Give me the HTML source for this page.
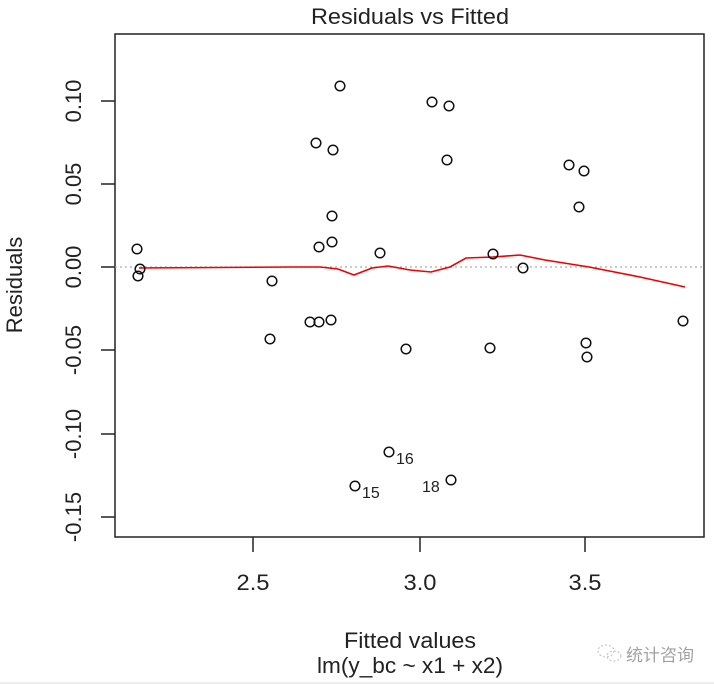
<!DOCTYPE html>
<html><head><meta charset="utf-8"><style>
body{margin:0;background:#fff}
svg{display:block}
text{font-family:"Liberation Sans","Noto Sans CJK SC",sans-serif;fill:#222}
</style></head><body>
<svg width="714" height="684" viewBox="0 0 714 684" xmlns="http://www.w3.org/2000/svg">
<rect x="0" y="0" width="714" height="684" fill="#fff"/>
<rect x="0" y="682" width="714" height="2" fill="#eee"/>
<text x="410" y="24" font-size="22" text-anchor="middle" textLength="198" lengthAdjust="spacingAndGlyphs">Residuals vs Fitted</text>
<rect x="115" y="34" width="589" height="503" fill="none" stroke="#222" stroke-width="1.5"/>
<line x1="115" y1="267" x2="704" y2="267" stroke="#aaa" stroke-width="1.2" stroke-dasharray="2,3"/>
<g stroke="#222" stroke-width="1.5">
<line x1="253" y1="537" x2="253" y2="552"/><line x1="420" y1="537" x2="420" y2="552"/><line x1="585" y1="537" x2="585" y2="552"/>
<line x1="115" y1="101" x2="101" y2="101"/><line x1="115" y1="184" x2="101" y2="184"/><line x1="115" y1="267" x2="101" y2="267"/>
<line x1="115" y1="350" x2="101" y2="350"/><line x1="115" y1="434" x2="101" y2="434"/><line x1="115" y1="517" x2="101" y2="517"/>
</g>
<g font-size="22" text-anchor="middle">
<text x="253" y="590" textLength="33" lengthAdjust="spacingAndGlyphs">2.5</text><text x="420" y="590" textLength="33" lengthAdjust="spacingAndGlyphs">3.0</text><text x="585" y="590" textLength="33" lengthAdjust="spacingAndGlyphs">3.5</text>
<text transform="translate(81,101) rotate(-90)">0.10</text>
<text transform="translate(81,184) rotate(-90)">0.05</text>
<text transform="translate(81,267) rotate(-90)">0.00</text>
<text transform="translate(81,350) rotate(-90)">-0.05</text>
<text transform="translate(81,434) rotate(-90)">-0.10</text>
<text transform="translate(81,517) rotate(-90)">-0.15</text>
<text transform="translate(22,285) rotate(-90)">Residuals</text>
<text x="410" y="648" textLength="132" lengthAdjust="spacingAndGlyphs">Fitted values</text>
<text x="410" y="673" textLength="186" lengthAdjust="spacingAndGlyphs">lm(y_bc ~ x1 + x2)</text>
</g>
<polyline fill="none" stroke="#e00" stroke-width="1.6" points="139,268 292,267 320,267 338,269 354,275 372,268 388,266 410,270 431,272 450,267 466,258 493,257 520,255 545,260 589,267 640,277 685,287"/>
<g fill="none" stroke="#111" stroke-width="1.5">
<circle cx="137" cy="249" r="4.8"/><circle cx="140" cy="269" r="4.8"/><circle cx="138" cy="276" r="4.8"/>
<circle cx="272" cy="281" r="4.8"/><circle cx="270" cy="339" r="4.8"/><circle cx="316" cy="143" r="4.8"/>
<circle cx="333" cy="150" r="4.8"/><circle cx="340" cy="86" r="4.8"/><circle cx="332" cy="216" r="4.8"/>
<circle cx="319" cy="247" r="4.8"/><circle cx="332" cy="242" r="4.8"/><circle cx="310" cy="322" r="4.8"/>
<circle cx="319" cy="322" r="4.8"/><circle cx="331" cy="320" r="4.8"/><circle cx="380" cy="253" r="4.8"/>
<circle cx="432" cy="102" r="4.8"/><circle cx="449" cy="106" r="4.8"/><circle cx="447" cy="160" r="4.8"/>
<circle cx="493" cy="254" r="4.8"/><circle cx="523" cy="268" r="4.8"/><circle cx="569" cy="165" r="4.8"/>
<circle cx="584" cy="171" r="4.8"/><circle cx="579" cy="207" r="4.8"/><circle cx="586" cy="343" r="4.8"/>
<circle cx="587" cy="357" r="4.8"/><circle cx="683" cy="321" r="4.8"/><circle cx="406" cy="349" r="4.8"/>
<circle cx="490" cy="348" r="4.8"/><circle cx="355" cy="486" r="4.8"/><circle cx="389" cy="452" r="4.8"/>
<circle cx="451" cy="480" r="4.8"/>
</g>
<g font-size="16">
<text x="396" y="464">16</text><text x="362" y="498">15</text><text x="422" y="492">18</text>
</g>
<g opacity="0.55">
<ellipse cx="606" cy="651" rx="8" ry="6" fill="none" stroke="#888" stroke-dasharray="2,2"/>
<ellipse cx="614" cy="656" rx="7" ry="5" fill="none" stroke="#888" stroke-dasharray="2,2"/>
<text x="626" y="661" font-size="17" style="fill:#555">统计咨询</text>
</g>
</svg>
</body></html>
